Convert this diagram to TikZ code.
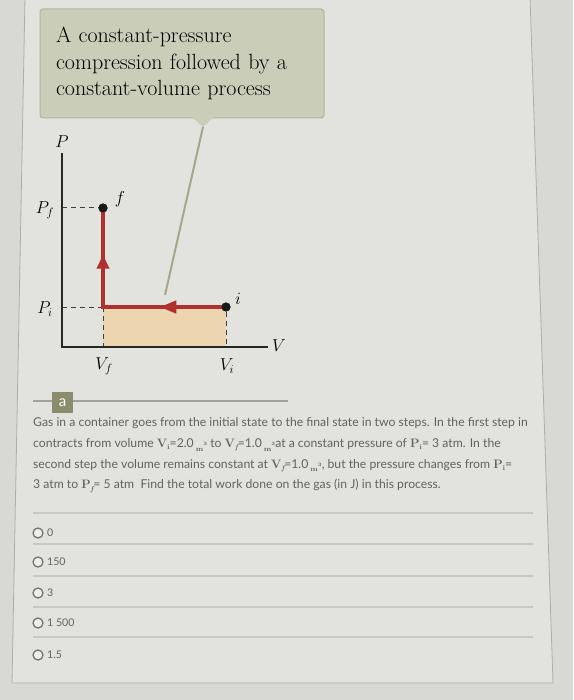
\documentclass[tikz,border=0pt]{standalone}
\usepackage{fontspec}
\newfontfamily\quizfont{Lato}
\usepackage{xcolor}
\usepackage{tikz}
\usetikzlibrary{arrows.meta,calc,decorations.markings}

\definecolor{pageGray}{HTML}{D8D8D4}
\definecolor{panelGray}{HTML}{E2E2DE}
\definecolor{panelEdge}{HTML}{AEAEA8}
\definecolor{calloutFill}{HTML}{CACDB7}
\definecolor{calloutEdge}{HTML}{B2B59C}
\definecolor{pointerOlive}{HTML}{A6A688}
\definecolor{processRed}{HTML}{B0302E}
\definecolor{workTan}{HTML}{EDD5B0}
\definecolor{quizText}{HTML}{626262}
\definecolor{badgeOlive}{HTML}{8B8C6B}
\definecolor{ruleGray}{HTML}{C9C9C3}

\newcommand{\qvar}[2]{{\rmfamily\bfseries #1}\raisebox{-0.2em}{\rmfamily\bfseries\scriptsize #2}}
\newcommand{\cubm}{\,\raisebox{-0.3em}{\rmfamily\bfseries\scriptsize m}\raisebox{0.15em}{\rmfamily\bfseries\tiny 3}}

\tikzstyle{tsCallout} = [
    rectangle,
    rounded corners=3pt,
    draw=calloutEdge,
    fill=calloutFill,
    line width=1pt,
    minimum width=284pt,
    minimum height=109pt,
    text width=252pt,
    inner xsep=16pt,
    align=left,
    font=\fontsize{22}{26.5}\selectfont\addfontfeature{LetterSpace=9}
]
\tikzstyle{tsAxis} = [
    draw=black!85,
    line width=2pt
]
\tikzstyle{tsGuide} = [
    draw=black!75,
    line width=1pt,
    dash pattern=on 5pt off 4pt
]
\tikzstyle{tsDot} = [
    circle,
    fill=black!90,
    inner sep=0pt,
    minimum size=9pt
]
\tikzstyle{tsLabel} = [
    font=\fontsize{17}{20}\selectfont
]
\tikzstyle{tsProcess} = [
    draw=processRed,
    line width=4.5pt,
    postaction={decorate, decoration={markings,
        mark=at position 0.30 with {\arrow[processRed]{Triangle[length=17pt,width=12pt]}},
        mark=at position 0.79 with {\arrow[processRed]{Triangle[length=14pt,width=12pt]}}}}
]
\tikzstyle{tsQuiz} = [
    text=quizText,
    font=\quizfont\fontsize{12.2}{20.7}\selectfont
]
\tikzstyle{tsAnswer} = [
    text=quizText,
    font=\quizfont\fontsize{10.6}{12}\selectfont
]
\tikzstyle{tsSep} = [
    draw=ruleGray,
    line width=1.2pt
]
\tikzstyle{tsRadio} = [
    circle,
    draw=black!55,
    line width=1.3pt,
    fill=panelGray!60!white,
    inner sep=0pt,
    minimum size=10pt
]

\begin{document}
\begin{tikzpicture}[x=1pt, y=-1pt]

        \useasboundingbox (0,0) rectangle (573,700);
        \fill[pageGray] (0,0) rectangle (573,700);
        \filldraw[fill=panelGray, draw=panelEdge, line width=0.8pt]
            (25,-3) -- (530,-3) -- (553,683) -- (12,683) -- cycle;

        % callout
        \node[tsCallout] (callout) at (182,63.5)
            {A constant-pressure\\compression followed by a\\constant-volume process};
        \coordinate (tip) at (203,127);
        \coordinate (pointEnd) at (165,295);
        \fill[calloutFill] (tip) -- ++(-11,-10) -- ++(22,0) -- cycle;
        \draw[pointerOlive, line width=2pt] (tip) -- (pointEnd);

        % PV diagram
        \coordinate (origin) at (62,347);
        \coordinate (corner) at (103,307);
        \fill[workTan] (corner) rectangle (226,347);

        \node[tsDot] (f) at (103,208) {};
        \node[tsDot] (i) at (226,307) {};

        \draw[tsGuide] (62,208) -- (f);
        \draw[tsGuide] (62,307) -- (corner);
        \draw[tsGuide] (corner) -- (103,347);
        \draw[tsGuide] (i) -- (226,347);

        \draw[tsAxis] (62,153) -- (origin) -- (268,347);

        \draw[tsProcess] (i.center) -- (corner) -- (f.center);
        \node[tsDot] at (f) {};
        \node[tsDot] at (i) {};

        \node[tsLabel] (pAxis) at (62,142) {$P$};
        \node[tsLabel] (vAxis) at (279,346) {$V$};
        \node[tsLabel] (pf) at (45,210) {$P_f$};
        \node[tsLabel] (pi) at (45,309) {$P_i$};
        \node[tsLabel] (fLabel) at (120,199) {$f$};
        \node[tsLabel] (iLabel) at (238,299) {$i$};
        \node[tsLabel] (vf) at (104,366) {$V_f$};
        \node[tsLabel] (vi) at (227,366) {$V_i$};

        % question
        \draw[draw=ruleGray!80!black, line width=1.5pt] (33,401) -- (288,401);
        \node[fill=badgeOlive, text=white, minimum size=21pt, inner sep=0pt,
              font=\quizfont\fontsize{15}{15}\selectfont] (badge) at (62.5,402.5) {a};

        \node[tsQuiz, anchor=north west, inner sep=0pt, align=left] (question) at (33,417.5)
            {Gas in a container goes from the initial state to the final state in two steps. In the first step in\\
             contracts from volume \qvar{V}{i}=2.0\cubm{} to \qvar{V}{\itshape f}=1.0\cubm at a constant pressure of \qvar{P}{i}= 3 atm. In the\\
             second step the volume remains constant at \qvar{V}{\itshape f}=1.0\cubm, but the pressure changes from \qvar{P}{i}=\\
             3 atm to \qvar{P}{\itshape f}= 5 atm \ Find the total work done on the gas (in J) in this process.};

        \foreach \yy in {513,544,576,607,637}
            \draw[tsSep] (33,\yy) -- (533,\yy);

        \foreach \val/\yy [count=\k] in {0/533, 150/562, 3/593, 1 500/623, 1.5/655} {
            \node[tsRadio] (radio\k) at (38,\yy) {};
            \node[tsAnswer, anchor=west, inner sep=0pt] (answer\k) at (47,\yy) {\val};
        }

\end{tikzpicture}
\end{document}
